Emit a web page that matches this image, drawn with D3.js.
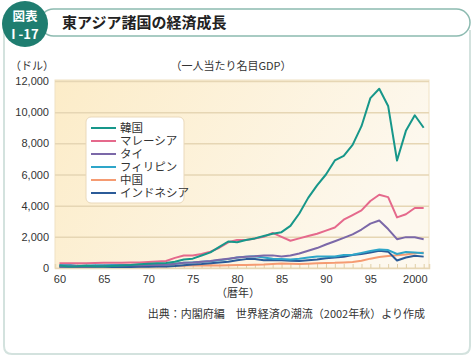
<!DOCTYPE html>
<html><head><meta charset="utf-8">
<script src="https://cdn.jsdelivr.net/npm/d3@7"></script>
<style>
html,body{margin:0;padding:0;background:#fff;}
svg{display:block;font-family:"Noto Sans CJK JP","Noto Sans",sans-serif;}
</style></head>
<body>
<svg id="c" width="474" height="358"></svg>
<script>
const years = d3.range(1960, 2002);
const seriesNames = ["韓国","マレーシア","タイ","フィリピン","中国","インドネシア"];
const seriesColors = ["#17978a","#e5698c","#7b68a8","#2ea6c9","#f59b72","#2b5b98"];
const korea = [160,100,110,140,120,110,130,160,190,240,280,300,320,400,550,600,800,1000,1350,1700,1650,1800,1900,2050,2200,2300,2700,3500,4500,5300,6000,6900,7200,7900,9100,10900,11500,10400,6900,8800,9800,9000];
const malaysia = [300,300,310,310,320,330,340,340,350,360,380,410,450,650,800,800,900,1050,1300,1650,1800,1800,1900,2000,2250,2000,1750,1900,2050,2200,2400,2600,3100,3400,3700,4300,4700,4550,3250,3450,3850,3850];
const thailand = [100,110,110,120,130,140,150,160,170,180,190,200,210,270,340,350,400,450,530,600,680,720,750,800,810,740,800,930,1110,1280,1510,1720,1930,2160,2470,2850,3050,2500,1850,1980,1970,1850];
const philippines = [200,210,150,160,170,180,190,190,200,200,190,200,210,260,330,360,400,440,500,570,680,730,760,680,600,580,550,600,670,740,730,740,840,850,970,1090,1180,1150,900,1030,990,950];
const china = [90,80,70,70,80,90,100,90,90,100,110,110,120,140,150,170,160,180,160,180,200,200,210,220,250,290,280,250,280,310,320,330,360,380,470,600,700,770,820,860,950,1000];
const indonesia = [80,80,80,80,80,80,60,60,70,80,80,90,100,130,180,230,260,310,360,400,500,570,580,500,510,500,470,450,500,550,620,670,720,830,900,1000,1100,1050,480,670,780,730];
const seriesValues = [korea, malaysia, thailand, philippines, china, indonesia];
const yTicks = [0,2000,4000,6000,8000,10000,12000];
const xTicks = [1960,1965,1970,1975,1980,1985,1990,1995,2000];
const xTickLabels = ["60","65","70","75","80","85","90","95","2000"];

const svg = d3.select("#c");
const defs = svg.append("defs");
const g1 = defs.append("linearGradient").attr("id","bg").attr("x1","0").attr("y1","0").attr("x2","1").attr("y2","0.3");
g1.append("stop").attr("offset","0").attr("stop-color","#fcecc8");
g1.append("stop").attr("offset","1").attr("stop-color","#fdf8ee");

// outer frame
svg.append("path")
  .attr("d","M4,30 L4,346 Q4,354 12,354 L462,354 Q470,354 470,346 L470,30")
  .attr("fill","none").attr("stroke","#d3e2de").attr("stroke-width",2);
// title pill
svg.append("rect").attr("x",40).attr("y",9).attr("width",430).attr("height",27).attr("rx",13.5)
  .attr("fill","#fff").attr("stroke","#8cbab0").attr("stroke-width",1.5);
svg.append("text").attr("x",62).attr("y",28).attr("font-size",15).attr("font-weight","bold")
  .attr("fill","#222").text("東アジア諸国の経済成長");
// badge
svg.append("circle").attr("cx",25).attr("cy",24).attr("r",23).attr("fill","#1f7d70");
svg.append("text").attr("x",25).attr("y",21).attr("text-anchor","middle").attr("font-size",12.5)
  .attr("font-weight","bold").attr("fill","#fff").text("図表");
svg.append("text").attr("x",25).attr("y",39).attr("text-anchor","middle").attr("font-size",13)
  .attr("font-weight","bold").attr("fill","#fff").text("I -17");

const L = 55, R = 429, T = 81, B = 268;
const x = d3.scaleLinear().domain([1959.5, 2001.6]).range([L, R]);
const y = d3.scaleLinear().domain([0, 12000]).range([B, T]);

svg.append("rect").attr("x",L).attr("y",T-1).attr("width",R-L).attr("height",B-T+1)
  .attr("fill","url(#bg)").attr("stroke","#f0e2c4").attr("stroke-width",1);

// grid
const grid = svg.append("g").attr("transform",`translate(${L},0)`)
  .call(d3.axisLeft(y).tickValues(yTicks.slice(1)).tickSize(-(R-L)).tickFormat(""));
grid.select(".domain").remove();
grid.selectAll("line").attr("stroke","#e6d6b4").attr("stroke-width",1.5);

// y labels
const ya = svg.append("g").attr("transform",`translate(${L-3},0)`)
  .call(d3.axisLeft(y).tickValues(yTicks).tickSize(0).tickFormat(d3.format(",")));
ya.select(".domain").remove();
ya.selectAll("text").attr("font-size",11).attr("fill","#333")
  .attr("font-family","'Liberation Sans',Arial,sans-serif");

// x minor ticks
const xm = svg.append("g").attr("transform",`translate(0,${B})`)
  .call(d3.axisBottom(x).tickValues(years).tickSize(-4).tickFormat(""));
xm.select(".domain").attr("stroke","#e6d6b4").attr("stroke-width",1.5);
xm.selectAll("line").attr("stroke","#e0cfa8");
// x labels
const xa = svg.append("g").attr("transform",`translate(0,${B+4})`)
  .call(d3.axisBottom(x).tickValues(xTicks).tickSize(0).tickFormat((d,i)=>xTickLabels[i]));
xa.select(".domain").remove();
xa.selectAll("text").attr("font-size",11).attr("fill","#333")
  .attr("font-family","'Liberation Sans',Arial,sans-serif");

// lines
const line = d3.line().x((d,i)=>x(years[i])).y(d=>y(d));
const order = [4,5,3,2,1,0];
order.forEach(k=>{
  svg.append("path").datum(seriesValues[k]).attr("d",line).attr("fill","none")
    .attr("stroke",seriesColors[k]).attr("stroke-width",2).attr("stroke-linejoin","round");
});

// texts
svg.append("text").attr("x",10).attr("y",70).attr("font-size",11).attr("fill","#333").text("（ドル）");
svg.append("text").attr("x",231).attr("y",70).attr("text-anchor","middle").attr("font-size",11).attr("fill","#333").text("（一人当たり名目GDP）");
svg.append("text").attr("x",238).attr("y",297).attr("text-anchor","middle").attr("font-size",11).attr("fill","#333").text("（暦年）");
svg.append("text").attr("x",425).attr("y",318).attr("text-anchor","end").attr("font-size",11).attr("fill","#333").text("出典：内閣府編　世界経済の潮流（2002年秋）より作成");

// legend
const lg = svg.append("g");
lg.append("rect").attr("x",86).attr("y",117).attr("width",98).attr("height",86).attr("rx",5)
  .attr("fill","#fff").attr("stroke","#ead9bb").attr("stroke-width",1);
seriesNames.forEach((n,i)=>{
  const yy = 128 + i*13;
  lg.append("line").attr("x1",91).attr("x2",116).attr("y1",yy).attr("y2",yy)
    .attr("stroke",seriesColors[i]).attr("stroke-width",2);
  lg.append("text").attr("x",120).attr("y",yy+4).attr("font-size",11.5).attr("fill","#333").text(n);
});
</script>
</body></html>
